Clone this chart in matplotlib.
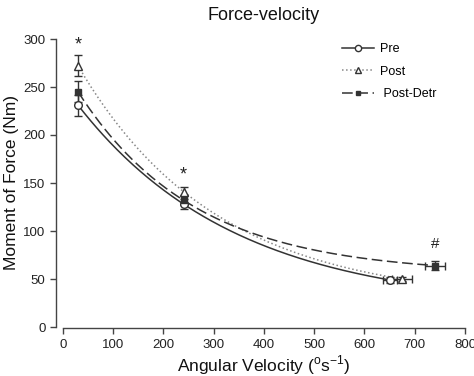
import numpy as np
import matplotlib
matplotlib.use("Agg")
import matplotlib.pyplot as plt

plt.rcParams['font.family'] = ['Liberation Sans', 'DejaVu Sans']
plt.rcParams['mathtext.fontset'] = 'custom'
plt.rcParams['mathtext.rm'] = 'Liberation Sans'

# angular velocity (deg/s) and moment of force (Nm) for each condition
pre_x = [30, 240, 650]
pre_y = [231, 128, 49]
pre_yerr = [11, 5, 3]
pre_xerr = [0, 0, 14]

post_x = [30, 240, 675]
post_y = [272, 141, 50]
post_yerr = [11, 5, 2]
post_xerr = [0, 0, 20]

detr_x = [30, 240, 740]
detr_y = [245, 132, 64]
detr_yerr = [11, 5, 5]
detr_xerr = [0, 0, 20]

# significance markers: (x, y, text)
marks_x = [30, 240, 740]
marks_y = [294, 158, 86]
marks_txt = ["*", "*", "#"]

COL = "#333333"


def exp_fit(x, y):
    """Fit y = c + a*exp(-b x) by scanning b and solving a, c linearly."""
    x = np.asarray(x, float)
    y = np.asarray(y, float)
    best = None
    for b in np.linspace(0.0005, 0.02, 4000):
        A = np.column_stack([np.ones_like(x), np.exp(-b * x)])
        coef, res, _, _ = np.linalg.lstsq(A, y, rcond=None)
        err = np.sum((A @ coef - y) ** 2)
        if best is None or err < best[0]:
            best = (err, b, coef)
    _, b, (c, a) = best
    xs = np.linspace(x.min(), x.max(), 200)
    return xs, c + a * np.exp(-b * xs)


fig = plt.figure(figsize=(4.74, 3.76), dpi=100)
ax = fig.add_axes([63 / 474, 49 / 376, 402 / 474, 288 / 376])

series = [
    (pre_x, pre_y, pre_xerr, pre_yerr, "-", "o", "white", 5.5, "Pre"),
    (post_x, post_y, post_xerr, post_yerr, ":", "^", "white", 5.5, "Post"),
    (detr_x, detr_y, detr_xerr, detr_yerr, (0, (7, 3)), "s", COL, 4.5, " Post-Detr"),
]

for x, y, xe, ye, ls, mk, fc, ms, lab in series:
    xs, ys = exp_fit(x, y)
    lc = "#888888" if ls == ":" else COL
    ax.plot(xs, ys, linestyle=ls, color=lc, lw=1.1, zorder=2)
    xerr = [e if e > 0 else np.nan for e in xe]
    ax.errorbar(x, y, yerr=ye, xerr=xerr, fmt="none", ecolor=COL,
                elinewidth=1.0, capsize=3, capthick=1.0, zorder=3)
    ax.plot(x, y, linestyle="none", marker=mk, markersize=ms,
            markerfacecolor=fc, markeredgecolor=COL, markeredgewidth=1.0, zorder=4)
    # legend handle
    ax.plot([], [], linestyle=ls, color=lc, lw=1.1, marker=mk, markersize=ms - 1,
            markerfacecolor=fc, markeredgecolor=COL, label=lab)

for mx, my, t in zip(marks_x, marks_y, marks_txt):
    ax.text(mx, my, t, ha="center", va="center",
            fontsize=13 if t == "*" else 11, color="#222222")

ax.set_xlim(0, 800)
ax.set_ylim(0, 300)
ax.set_xticks(range(0, 801, 100))
ax.set_yticks(range(0, 301, 50))

for s in ["top", "right"]:
    ax.spines[s].set_visible(False)
ax.spines["left"].set_position(("outward", 5))
ax.spines["bottom"].set_position(("outward", 1))
for s in ["left", "bottom"]:
    ax.spines[s].set_color("#444444")
    ax.spines[s].set_linewidth(1.0)
ax.tick_params(direction="out", length=4, width=1.0, colors="#444444",
               labelsize=9.5, labelcolor="#222222")

ax.set_title("Force-velocity", fontsize=13, pad=14, color="#111111")
ax.set_xlabel(r"Angular Velocity ($^{\mathrm{o}}$s$^{-1}$)", fontsize=12.5,
              labelpad=2, color="#111111")
ax.set_ylabel("Moment of Force (Nm)", fontsize=12.5, labelpad=3.5, color="#111111")

ax.legend(loc="upper left", bbox_to_anchor=(0.665, 1.025), frameon=False,
          fontsize=9, handlelength=2.6, handletextpad=0.5, labelspacing=0.85)

fig.savefig("out.png", dpi=100)
